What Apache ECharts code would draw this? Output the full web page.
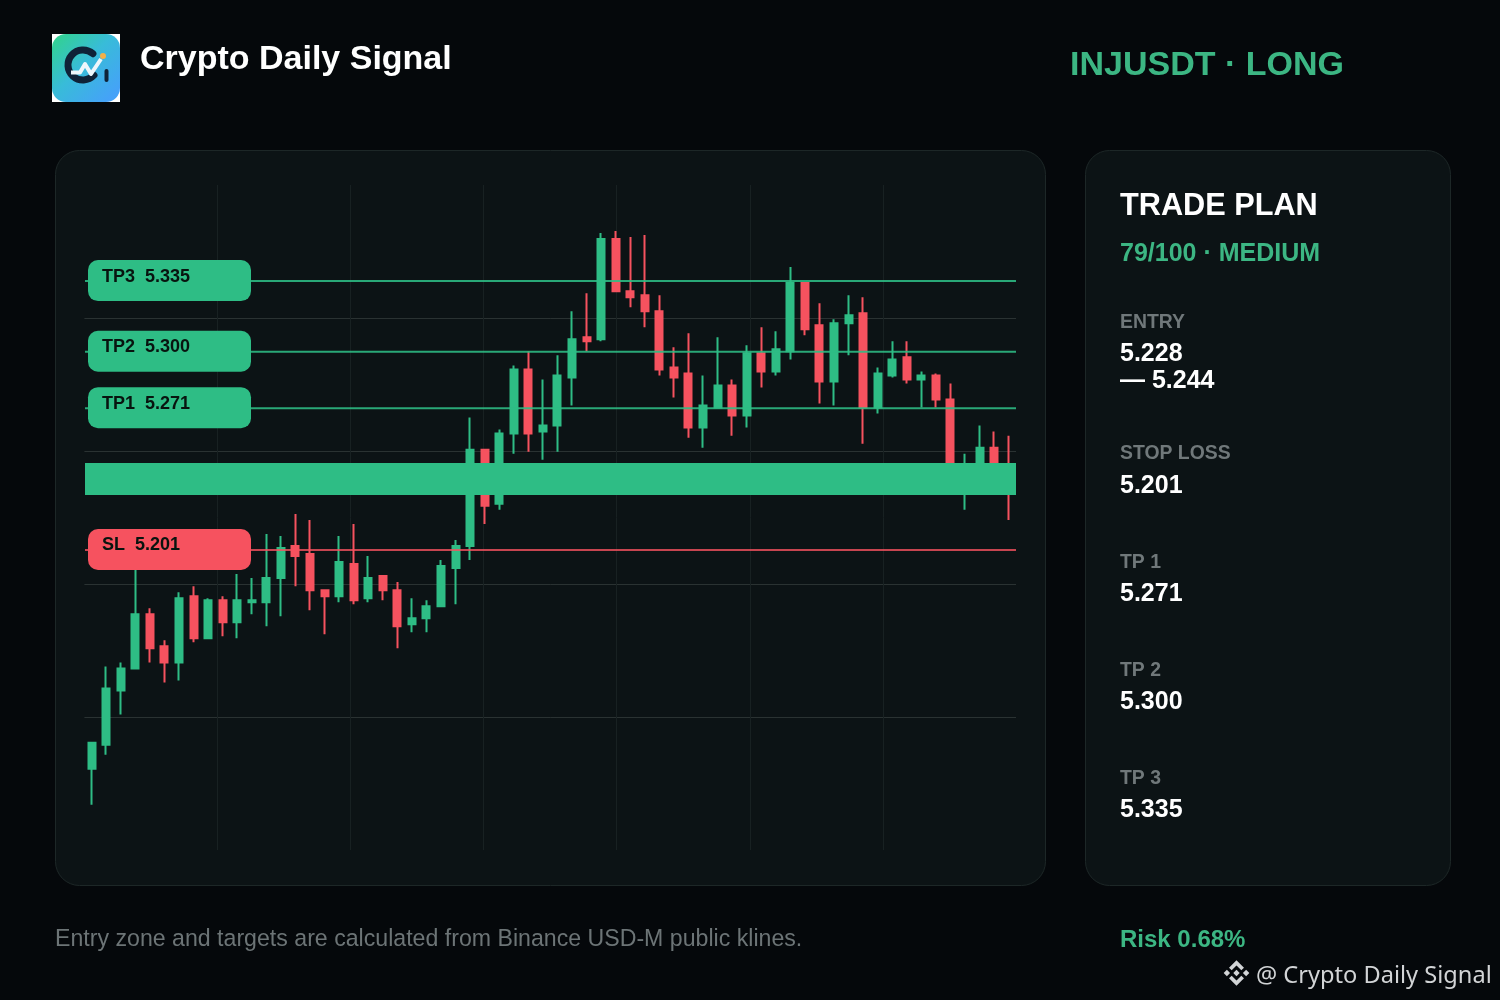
<!DOCTYPE html>
<html>
<head>
<meta charset="utf-8">
<style>html,body{margin:0;padding:0;background:#05080b}#c{width:1500px;height:1000px}</style>
<script src="https://cdn.jsdelivr.net/npm/echarts@6/dist/echarts.min.js"></script>
</head>
<body>
<div id="c"></div>
<script>
const categories = Array.from({length:64},(_, i)=>'K'+(i+1));
// each candle: open, close, low, high
const candles = [
[5.092,5.105,5.074,5.105],[5.104,5.132,5.099,5.143],[5.131,5.142,5.119,5.145],[5.142,5.169,5.142,5.202],
[5.169,5.152,5.145,5.172],[5.153,5.145,5.135,5.156],[5.145,5.177,5.136,5.180],[5.178,5.157,5.155,5.183],
[5.157,5.176,5.157,5.177],[5.176,5.165,5.158,5.178],[5.165,5.176,5.157,5.189],[5.175,5.176,5.169,5.187],
[5.175,5.187,5.163,5.209],[5.187,5.202,5.168,5.208],[5.203,5.198,5.183,5.219],[5.199,5.181,5.171,5.216],
[5.181,5.178,5.159,5.181],[5.178,5.195,5.175,5.208],[5.194,5.176,5.174,5.214],[5.177,5.187,5.175,5.198],
[5.188,5.181,5.176,5.188],[5.181,5.163,5.152,5.185],[5.164,5.167,5.160,5.177],[5.167,5.173,5.160,5.176],
[5.173,5.193,5.173,5.196],[5.192,5.203,5.174,5.206],[5.203,5.251,5.196,5.267],[5.251,5.223,5.214,5.251],
[5.224,5.259,5.221,5.261],[5.259,5.291,5.249,5.293],[5.291,5.259,5.250,5.300],[5.260,5.263,5.246,5.286],
[5.263,5.288,5.250,5.298],[5.287,5.306,5.273,5.320],[5.307,5.305,5.300,5.329],[5.306,5.356,5.305,5.359],
[5.356,5.330,5.330,5.360],[5.330,5.327,5.322,5.357],[5.328,5.320,5.312,5.358],[5.320,5.291,5.288,5.328],
[5.292,5.287,5.277,5.302],[5.289,5.262,5.257,5.309],[5.262,5.273,5.252,5.288],[5.272,5.283,5.272,5.307],
[5.283,5.268,5.258,5.286],[5.268,5.299,5.262,5.303],[5.299,5.290,5.282,5.312],[5.290,5.301,5.288,5.310],
[5.300,5.334,5.296,5.342],[5.334,5.311,5.308,5.334],[5.313,5.285,5.274,5.324],[5.285,5.314,5.273,5.316],
[5.314,5.318,5.298,5.328],[5.319,5.272,5.254,5.327],[5.272,5.289,5.269,5.292],[5.288,5.296,5.287,5.305],
[5.297,5.286,5.284,5.305],[5.286,5.288,5.272,5.290],[5.288,5.276,5.272,5.289],[5.276,5.236,5.231,5.284],
[5.236,5.241,5.221,5.249],[5.237,5.252,5.231,5.263],[5.252,5.241,5.236,5.260],[5.243,5.237,5.216,5.258]
];
const levelNames = ['TP3','TP2','TP1','SL'];
const levelValues = [5.335,5.2998,5.2717,5.201];
const levelTexts = ['5.335','5.300','5.271','5.201'];
const entryZone = [5.2284,5.2443];
const planLabels = ['ENTRY','STOP LOSS','TP 1','TP 2','TP 3'];
const planValues = ['5.228','5.201','5.271','5.300','5.335'];

const GREEN='#2ebd85', RED='#f6525f', FONT='"Liberation Sans",Arial,sans-serif';
const BG='#05080b', PANEL='#0c1315', EDGE='#1d2727';

function txt(x,y,text,size,weight,fill,family){
  return {type:'text',z:5,style:{x,y,text,fill,font:`${weight} ${size}px ${family||FONT}`,align:'left',verticalAlign:'middle'},silent:true};
}
const g=[];
g.push({type:'rect',z:-5,shape:{x:0,y:0,width:1500,height:1000},style:{fill:BG}});
g.push({type:'rect',z:-4,shape:{x:55.5,y:150.5,width:990,height:735,r:24},style:{fill:PANEL,stroke:EDGE,lineWidth:1}});
g.push({type:'rect',z:-4,shape:{x:1085.5,y:150.5,width:365,height:735,r:24},style:{fill:PANEL,stroke:EDGE,lineWidth:1}});
// logo
g.push({type:'rect',z:5,shape:{x:52,y:34,width:68,height:68},style:{fill:'#ffffff'}});
g.push({type:'rect',z:5,shape:{x:52,y:34,width:68,height:68,r:14},style:{fill:{type:'linear',x:0,y:0,x2:0.9,y2:0.9,colorStops:[{offset:0,color:'#31d489'},{offset:0.5,color:'#38bcd8'},{offset:1,color:'#45a2f8'}]}}});
g.push({type:'arc',z:6,shape:{cx:83,cy:65,r:15,startAngle:-0.85,endAngle:0.75,clockwise:false},style:{fill:'none',stroke:'#0f2238',lineWidth:7,lineCap:'round'}});
g.push({type:'polyline',z:7,shape:{points:[[71,72.5],[80,72.5],[85,64],[91,74],[101,59]]},style:{fill:'none',stroke:'#eef6fb',lineWidth:4,lineJoin:'round'}});
g.push({type:'circle',z:8,shape:{cx:103,cy:56,r:3},style:{fill:'#f2b04a'}});
g.push({type:'line',z:7,shape:{x1:106.5,y1:71,x2:106.5,y2:80},style:{stroke:'#0f2238',lineWidth:4,lineCap:'round'}});
// header
g.push(txt(140,60,'Crypto Daily Signal',34,'bold','#ffffff'));
g.push(txt(1070,66,'INJUSDT · LONG',34,'bold','#3cb683'));
// plan
g.push(txt(1120,207,'TRADE PLAN',30.7,'bold','#ffffff'));
g.push(txt(1120,254,'79/100 · MEDIUM',25,'bold','#3cb683'));
const labelY=[323,454,563,671,779], valueY=[354.5,486.5,594.5,702.5,810.5];
planLabels.forEach((t,i)=>{
  g.push(txt(1120,labelY[i],t,19.4,'bold','#70787a'));
  g.push(txt(1120,valueY[i],planValues[i],25,'bold','#ffffff'));
});
g.push(txt(1120,381.5,'— 5.244',25,'bold','#ffffff'));
// footer
g.push(txt(55,939.5,'Entry zone and targets are calculated from Binance USD-M public klines.',23.15,'normal','#6c7476'));
g.push(txt(1120,940,'Risk 0.68%',24,'bold','#3cb683'));
g.push(txt(1256,976.5,'@ Crypto Daily Signal',23.6,'normal','#d2d4d6','"Noto Sans",sans-serif'));
// watermark icon
const ic=[
 [[0,-3],[3,0],[0,3],[-3,0]],
 [[-9,-3],[-6,0],[-9,3],[-12,0]],
 [[9,-3],[12,0],[9,3],[6,0]],
 [[0,-12],[7,-5],[4.5,-2.5],[0,-7],[-4.5,-2.5],[-7,-5]],
 [[0,12],[7,5],[4.5,2.5],[0,7],[-4.5,2.5],[-7,5]]
];
ic.forEach(p=>g.push({type:'polygon',z:6,shape:{points:p.map(q=>[1236.5+q[0]*1.07,973+q[1]*1.07])},style:{fill:'#d2d4d6'}}));

const levelRows = levelValues.map((v,i)=>[0,v,i]);

const chart = echarts.init(document.getElementById('c'),null,{renderer:'canvas'});
chart.setOption({
  animation:false,
  backgroundColor:BG,
  graphic:{elements:g},
  grid:{left:84.4,top:185,width:931.6,height:665,containLabel:false},
  xAxis:[
    {type:'category',data:categories,show:false,boundaryGap:true},
    {type:'value',min:0,max:7,interval:1,position:'bottom',axisLine:{show:false},axisTick:{show:false},axisLabel:{show:false},
     splitLine:{show:true,showMinLine:false,showMaxLine:false,lineStyle:{color:'#182122',width:1}}}
  ],
  yAxis:[
    {type:'value',min:5.0515,max:5.3829,show:false,scale:true,splitLine:{show:false}},
    {type:'value',min:0,max:5,interval:1,position:'right',axisLine:{show:false},axisTick:{show:false},axisLabel:{show:false},
     splitLine:{show:true,showMinLine:false,showMaxLine:false,lineStyle:{color:'#2a3232',width:1}}}
  ],
  series:[
    {type:'candlestick',name:'INJUSDT',data:candles,barWidth:7.5,z:2,clip:false,
     itemStyle:{color:GREEN,color0:RED,borderColor:GREEN,borderColor0:RED,borderWidth:2}},
    {type:'custom',name:'levels',z:3,data:levelRows,silent:true,clip:false,
     renderItem(p,api){
       const i=api.value(2), y=api.coord([0,api.value(1)])[1], c=p.coordSys;
       const col=levelNames[i]==='SL'?RED:GREEN;
       return {type:'line',shape:{x1:85,y1:y,x2:c.x+c.width,y2:y},style:{stroke:col,lineWidth:2,opacity:levelNames[i]==='SL'?0.8:0.88}};
     }},
    {type:'custom',name:'entry',z:4,data:[[0,entryZone[0],entryZone[1]]],silent:true,clip:false,
     renderItem(p,api){
       const a=api.coord([0,api.value(1)])[1], b=api.coord([0,api.value(2)])[1], c=p.coordSys;
       return {type:'rect',shape:{x:85,y:b,width:931,height:a-b},style:{fill:GREEN}};
     }},
    {type:'custom',name:'tags',z:5,data:levelRows,silent:true,clip:false,
     renderItem(p,api){
       const i=api.value(2), y=api.coord([0,api.value(1)])[1];
       const col=levelNames[i]==='SL'?RED:GREEN;
       return {type:'group',children:[
         {type:'rect',shape:{x:88,y:y-21,width:163,height:41,r:10},style:{fill:col}},
         {type:'text',style:{x:102,y:y-4.5,text:levelNames[i]+'  '+levelTexts[i],fill:'#08140f',font:'bold 18px '+FONT,align:'left',verticalAlign:'middle'}}
       ]};
     }}
  ]
});
</script>
</body>
</html>
